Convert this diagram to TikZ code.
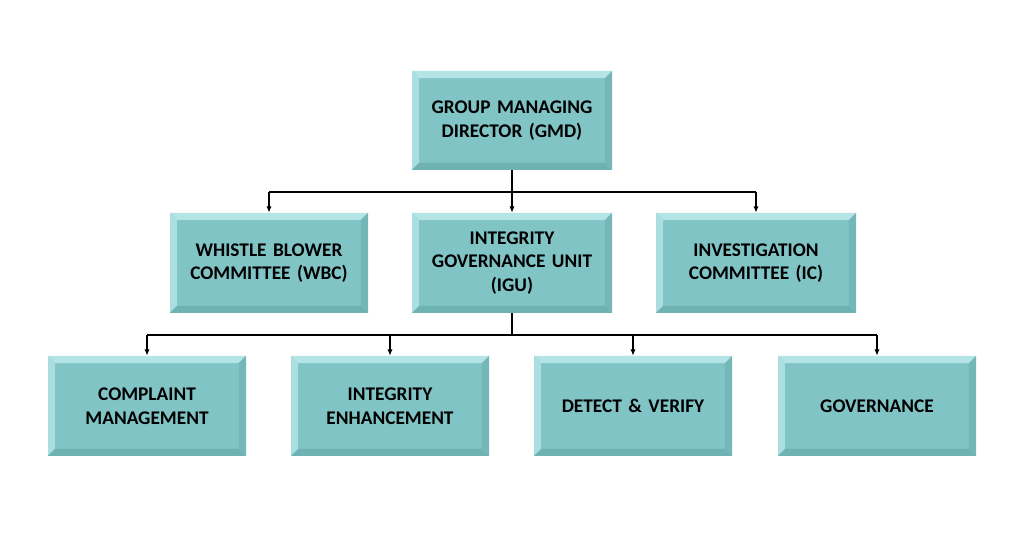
\documentclass[tikz,border=0pt]{standalone}
\usepackage{fontspec}
\setmainfont{Carlito}
\usetikzlibrary{arrows.meta}
\definecolor{boxfill}{HTML}{80C4C6}
\definecolor{boxlight}{HTML}{B4E4E6}
\definecolor{boxdark}{HTML}{6FB2B4}
\tikzset{
  x=0.02cm, y=-0.02cm,
  orgbox/.style={fill=boxfill, draw=none, inner sep=0pt, text width=#1, align=center,
    font=\bfseries\fontsize{11pt}{13.5pt}\selectfont,
    path picture={
      \coordinate (nw) at (path picture bounding box.north west);
      \coordinate (se) at (path picture bounding box.south east);
      \fill[boxlight] (nw) -- (nw -| se) -- ([xshift=-4pt,yshift=-4pt]nw -| se) -- ([xshift=4pt,yshift=-4pt]nw) -- cycle;
      \fill[boxlight!80!boxfill] (nw) -- ([xshift=4pt,yshift=-4pt]nw) -- ([xshift=4pt,yshift=4pt]nw |- se) -- (nw |- se) -- cycle;
      \fill[boxdark] (se) -- (nw |- se) -- ([xshift=4pt,yshift=4pt]nw |- se) -- ([xshift=-4pt,yshift=4pt]se) -- cycle;
      \fill[boxdark!70!boxfill] (se) -- ([xshift=-4pt,yshift=4pt]se) -- ([xshift=-4pt,yshift=-4pt]nw -| se) -- (nw -| se) -- cycle;
    }},
  conn/.style={draw=black, line width=0.7pt},
  arr/.style={conn, -{Latex[length=3.5pt,width=3pt]}}
}
\newcommand{\obox}[6]{% name, x1,y1,x2,y2, text
  \node[orgbox=#4 px, minimum width={(#4-#2)*0.02cm}, minimum height={(#5-#3)*0.02cm}, text width={(#4-#2-16)*0.02cm}] (#1) at ({(#2+#4)/2},{(#3+#5)/2}) {#6};}
\begin{document}
\begin{tikzpicture}
\useasboundingbox (0,0) rectangle (1024,546);
\fill[white] (0,0) rectangle (1024,546);
\obox{gmd}{412}{71}{612}{170}{GROUP MANAGING\\DIRECTOR (GMD)}
\obox{wbc}{170}{213}{368}{313}{WHISTLE BLOWER\\COMMITTEE (WBC)}
\obox{igu}{412}{213}{612}{313}{INTEGRITY\\GOVERNANCE UNIT\\(IGU)}
\obox{ic}{656}{213}{856}{313}{INVESTIGATION\\COMMITTEE (IC)}
\obox{cm}{48}{356}{246}{456}{COMPLAINT\\MANAGEMENT}
\obox{ie}{291}{356}{489}{456}{INTEGRITY\\ENHANCEMENT}
\obox{dv}{534}{356}{732}{456}{DETECT \& VERIFY}
\obox{gov}{778}{356}{976}{456}{GOVERNANCE}
\coordinate (b1) at (512,192);
\coordinate (b2) at (512,335);
\draw[conn] (gmd.south) -- (b1);
\draw[conn] (wbc.north |- b1) -- (ic.north |- b1);
\draw[arr] (wbc.north |- b1) -- (wbc.north);
\draw[arr] (b1) -- (igu.north);
\draw[arr] (ic.north |- b1) -- (ic.north);
\draw[conn] (igu.south) -- (b2);
\draw[conn] (cm.north |- b2) -- (gov.north |- b2);
\draw[arr] (cm.north |- b2) -- (cm.north);
\draw[arr] (ie.north |- b2) -- (ie.north);
\draw[arr] (dv.north |- b2) -- (dv.north);
\draw[arr] (gov.north |- b2) -- (gov.north);
\end{tikzpicture}
\end{document}
